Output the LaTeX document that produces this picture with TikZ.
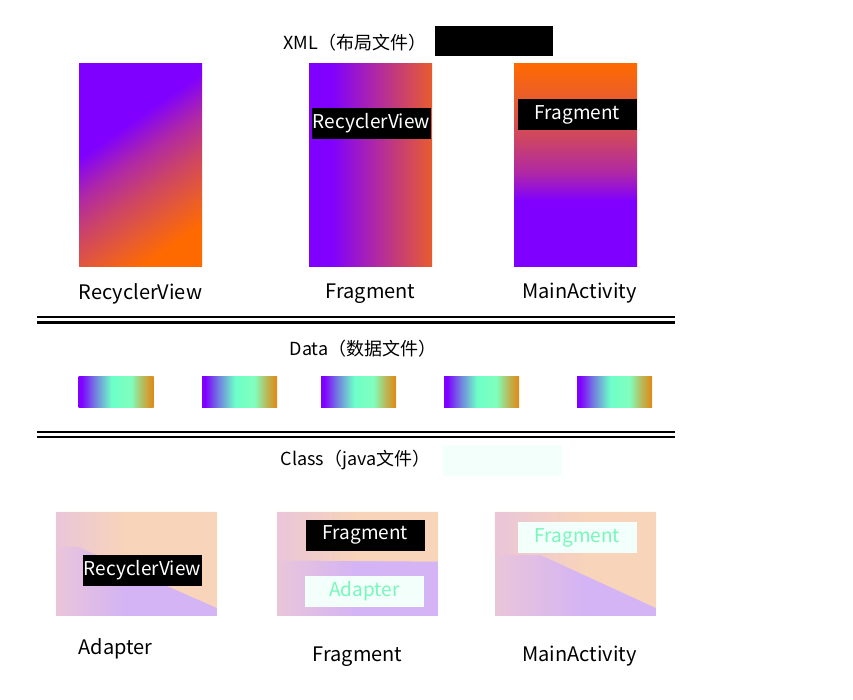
\documentclass[tikz,border=0pt]{standalone}
\usepackage{fontspec}
\setmainfont{Noto Sans CJK SC}
\usetikzlibrary{positioning, fadings}
\definecolor{vio}{RGB}{127,0,255}
\definecolor{org}{RGB}{255,106,0}
\definecolor{orgred}{RGB}{232,92,46}
\definecolor{magenta2}{RGB}{176,40,165}
\definecolor{rose}{RGB}{204,68,102}
\definecolor{aqua}{RGB}{128,255,190}
\definecolor{amber}{RGB}{224,136,20}
\definecolor{peach}{RGB}{248,212,186}
\definecolor{pinkish}{RGB}{234,198,218}
\definecolor{lavender}{RGB}{212,180,245}
\definecolor{mint}{RGB}{242,255,250}
\definecolor{minttext}{RGB}{118,248,188}
\pgfdeclareverticalshading{rvshade}{100bp}{color(0bp)=(org); color(25bp)=(org); color(33bp)=(orgred); color(43bp)=(rose); color(52bp)=(magenta2); color(62bp)=(vio); color(100bp)=(vio)}
\pgfdeclarehorizontalshading{fragshade}{100bp}{color(0bp)=(vio); color(34bp)=(vio); color(52bp)=(magenta2); color(75bp)=(orgred); color(100bp)=(orgred)}
\pgfdeclareverticalshading{mainshade}{100bp}{color(0bp)=(vio); color(41bp)=(vio); color(48bp)=(magenta2); color(56bp)=(rose); color(66bp)=(orgred); color(75bp)=(org); color(100bp)=(org)}
\pgfdeclarehorizontalshading{datashade}{100bp}{color(0bp)=(vio); color(27bp)=(vio); color(36bp)=(vio!45!aqua!90!blue); color(47bp)=(aqua!85!cyan); color(60bp)=(aqua); color(68bp)=(aqua!40!amber); color(75bp)=(amber); color(100bp)=(amber)}
\tikzfading[name=pinkfade, left color=transparent!0, right color=transparent!100]

\begin{document}
\begin{tikzpicture}[x=1pt, y=-1pt,
	every node/.style={font=\fontsize{20}{22}\selectfont, inner sep=0pt},
	title/.style={font=\fontsize{18}{20}\selectfont},
	panel/.style={shade, minimum width=123pt, minimum height=203pt},
	blackbox/.style={fill=black, text=white, minimum width=119pt, minimum height=31pt, font=\fontsize{19}{21}\selectfont},
	mintbox/.style={fill=mint, text=minttext, minimum width=119pt, minimum height=31pt, font=\fontsize{19}{21}\selectfont},
	datarect/.style={shade, shading=datashade, minimum width=75pt, minimum height=31pt},
	card/.style={fill=lavender, minimum width=161pt, minimum height=104pt},
	peachpart/.style={fill=peach},
	pinkband/.style={fill=pinkish, path fading=pinkfade},
	rule/.style={line width=2.6pt},
	node distance=17pt
]
	\useasboundingbox (0,0) rectangle (853,699);

	\node[title] (xmltitle) at (355,43) {XML（布局文件）};
	\node[fill=black, minimum width=118pt, minimum height=30pt] (xmlmask) at (494,41) {};

	\node[panel, shading=rvshade, shading angle=35] (rvpanel) at (140.5,164.5) {};
	\node[panel, shading=fragshade] (fragpanel) at (370.5,164.5) {};
	\node[panel, shading=mainshade] (mainpanel) at (575.5,164.5) {};
	\node[blackbox] (fragrv) at (371.5,123.5) {RecyclerView};
	\node[blackbox] (mainfrag) at (577.5,114.5) {Fragment};

	\node[below=of rvpanel] (rvlabel) {RecyclerView};
	\node[below=of fragpanel] (fraglabel) {Fragment};
	\node[below=of mainpanel, xshift=4pt] (mainlabel) {MainActivity};

	\coordinate (rulea1) at (37,317);
	\coordinate (rulea2) at (675,317);
	\coordinate (ruleb1) at (37,322.5);
	\coordinate (ruleb2) at (675,322.5);
	\draw[rule] (rulea1) -- (rulea2);
	\draw[rule] (ruleb1) -- (ruleb2);

	\node[title] (datatitle) at (363,349) {Data（数据文件）};
	\node[datarect] (data1) at (116,391.5) {};
	\node[datarect] (data2) at (239.5,391.5) {};
	\node[datarect] (data3) at (358.5,391.5) {};
	\node[datarect] (data4) at (481.5,391.5) {};
	\node[datarect] (data5) at (614.5,391.5) {};

	\coordinate (rulec1) at (37,432);
	\coordinate (rulec2) at (675,432);
	\coordinate (ruled1) at (37,437);
	\coordinate (ruled2) at (675,437);
	\draw[rule] (rulec1) -- (rulec2);
	\draw[rule] (ruled1) -- (ruled2);

	\node[title] (classtitle) at (355.5,460) {Class（java文件）};
	\node[fill=mint, minimum width=119pt, minimum height=31pt] (classmask) at (502,460) {};

	\node[card] (adcard) at (136.5,564) {};
	\node[card] (fragcard) at (357.5,564) {};
	\node[card] (maincard) at (575.5,564) {};

	\coordinate (adapex) at (78,546.7);
	\coordinate (adedge) at (217,608);
	\coordinate (fragapex) at (316,560.7);
	\coordinate (fragedge) at (438,561.7);
	\coordinate (mainapex) at (540.6,555);
	\coordinate (mainedge) at (656,608);
	\fill[peachpart] (adcard.west |- adapex) -- (adapex) -- (adedge) -- (adcard.north east) -- (adcard.north west) -- cycle;
	\fill[peachpart] (fragcard.west |- fragapex) -- (fragapex) -- (fragedge) -- (fragcard.north east) -- (fragcard.north west) -- cycle;
	\fill[peachpart] (maincard.west |- mainapex) -- (mainapex) -- (mainedge) -- (maincard.north east) -- (maincard.north west) -- cycle;
	\fill[pinkband] (adcard.north west) rectangle ([xshift=70pt]adcard.south west);
	\fill[pinkband] (fragcard.north west) rectangle ([xshift=80pt]fragcard.south west);
	\fill[pinkband] (maincard.north west) rectangle ([xshift=90pt]maincard.south west);

	\node[blackbox] (adrv) at (142.5,570) {RecyclerView};
	\node[blackbox] (fragfrag) at (365.5,535) {Fragment};
	\node[mintbox] (fragadapter) at (364.5,591) {Adapter};
	\node[mintbox] (mainfragment) at (577.5,537.5) {Fragment};

	\node (adlabel) at (115.5,649) {Adapter};
	\node[below=30pt of fragcard] (fragcardlabel) {Fragment};
	\node[below=30pt of maincard, xshift=4pt] (maincardlabel) {MainActivity};
\end{tikzpicture}
\end{document}
